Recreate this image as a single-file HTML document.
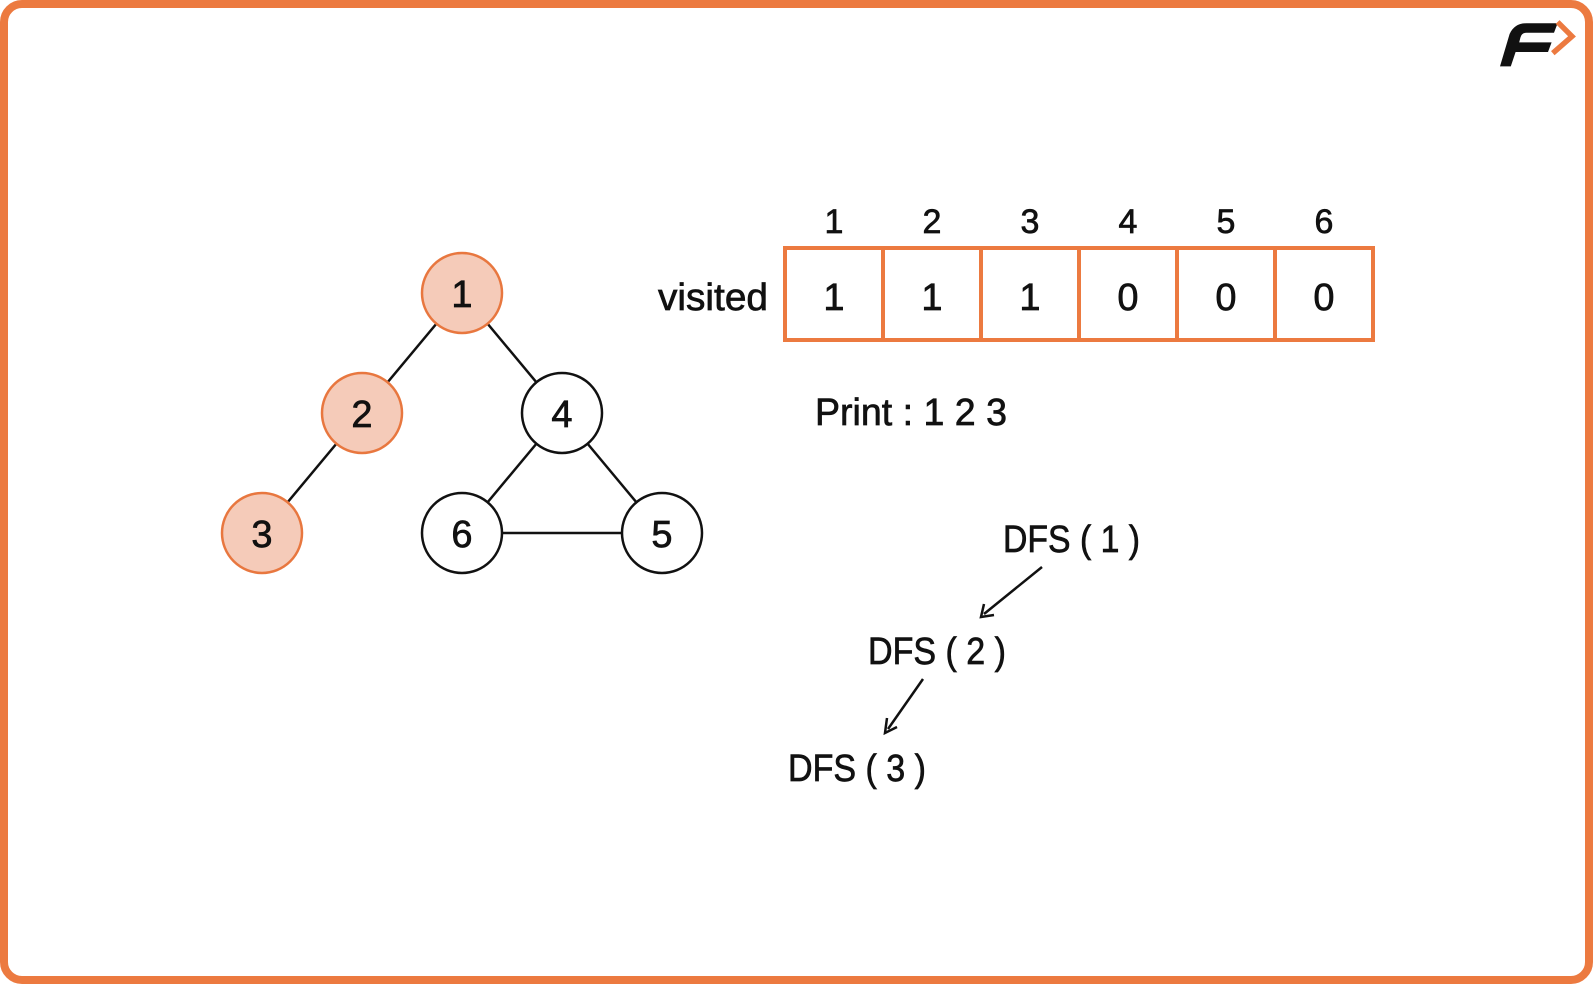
<!DOCTYPE html>
<html><head><meta charset="utf-8"><style>
html,body{margin:0;padding:0;background:#fff;}
svg{display:block;}
text{font-family:"Liberation Sans",sans-serif;fill:#111;stroke:#111;stroke-width:0.7;}
</style></head><body>
<svg width="1593" height="985" viewBox="0 0 1593 985" xmlns="http://www.w3.org/2000/svg">
<rect x="4" y="4" width="1585" height="976" rx="18" fill="#fff" stroke="#ec7a40" stroke-width="8"/>
<!-- logo -->
<g transform="translate(1500,22) scale(1.2) translate(-1505,-20)">
<path d="M1505,57 L1513,30 Q1517,21 1527,21 L1553,21 L1550,29 L1527,29 Q1523,29 1522,33 L1521,37 L1548,37 L1545,45 L1518,45 L1514,57 Z" fill="#111"/>
<polyline points="1553,20 1565,32 1549,46" fill="none" stroke="#ec7a40" stroke-width="4.5"/>
</g>
<!-- edges -->
<g stroke="#111" stroke-width="2.5">
<line x1="462" y1="293" x2="362" y2="413"/>
<line x1="462" y1="293" x2="562" y2="413"/>
<line x1="362" y1="413" x2="262" y2="533"/>
<line x1="562" y1="413" x2="462" y2="533"/>
<line x1="562" y1="413" x2="662" y2="533"/>
<line x1="462" y1="533" x2="662" y2="533"/>
</g>
<g stroke-width="2.5">
<circle cx="462" cy="293" r="40" fill="#f5cbb9" stroke="#e8773f"/>
<circle cx="362" cy="413" r="40" fill="#f5cbb9" stroke="#e8773f"/>
<circle cx="262" cy="533" r="40" fill="#f5cbb9" stroke="#e8773f"/>
<circle cx="562" cy="413" r="40" fill="#fff" stroke="#111"/>
<circle cx="462" cy="533" r="40" fill="#fff" stroke="#111"/>
<circle cx="662" cy="533" r="40" fill="#fff" stroke="#111"/>
</g>
<g font-size="38" text-anchor="middle" style="stroke-width:1.2">
<text x="462" y="307">1</text>
<text x="362" y="427">2</text>
<text x="262" y="547">3</text>
<text x="562" y="427">4</text>
<text x="462" y="547">6</text>
<text x="662" y="547">5</text>
</g>
<!-- array -->
<g fill="#fff" stroke="#ec7a40" stroke-width="4">
<rect x="785" y="248" width="98" height="92"/>
<rect x="883" y="248" width="98" height="92"/>
<rect x="981" y="248" width="98" height="92"/>
<rect x="1079" y="248" width="98" height="92"/>
<rect x="1177" y="248" width="98" height="92"/>
<rect x="1275" y="248" width="98" height="92"/>
</g>
<g font-size="34" text-anchor="middle" style="stroke-width:0.3">
<text x="834" y="233">1</text><text x="932" y="233">2</text><text x="1030" y="233">3</text>
<text x="1128" y="233">4</text><text x="1226" y="233">5</text><text x="1324" y="233">6</text>
</g>
<g font-size="38" text-anchor="middle">
<text x="834" y="310">1</text><text x="932" y="310">1</text><text x="1030" y="310">1</text>
<text x="1128" y="310">0</text><text x="1226" y="310">0</text><text x="1324" y="310">0</text>
</g>
<text x="658" y="310" font-size="38" textLength="110" lengthAdjust="spacingAndGlyphs">visited</text>
<text x="815" y="425" font-size="38" textLength="192" lengthAdjust="spacingAndGlyphs">Print : 1 2 3</text>
<text x="1003" y="552" font-size="38" textLength="137" lengthAdjust="spacingAndGlyphs">DFS ( 1 )</text>
<text x="868" y="664" font-size="38" textLength="138" lengthAdjust="spacingAndGlyphs">DFS ( 2 )</text>
<text x="788" y="781" font-size="38" textLength="138" lengthAdjust="spacingAndGlyphs">DFS ( 3 )</text>
<!-- arrows -->
<g stroke="#111" stroke-width="2.5" fill="none">
<line x1="1042" y1="567" x2="984" y2="614"/>
<polyline points="984,604 981,617 994,615"/>
<line x1="923" y1="679" x2="888" y2="729"/>
<polyline points="887,718 885,733 897,727"/>
</g>
</svg>
</body></html>
